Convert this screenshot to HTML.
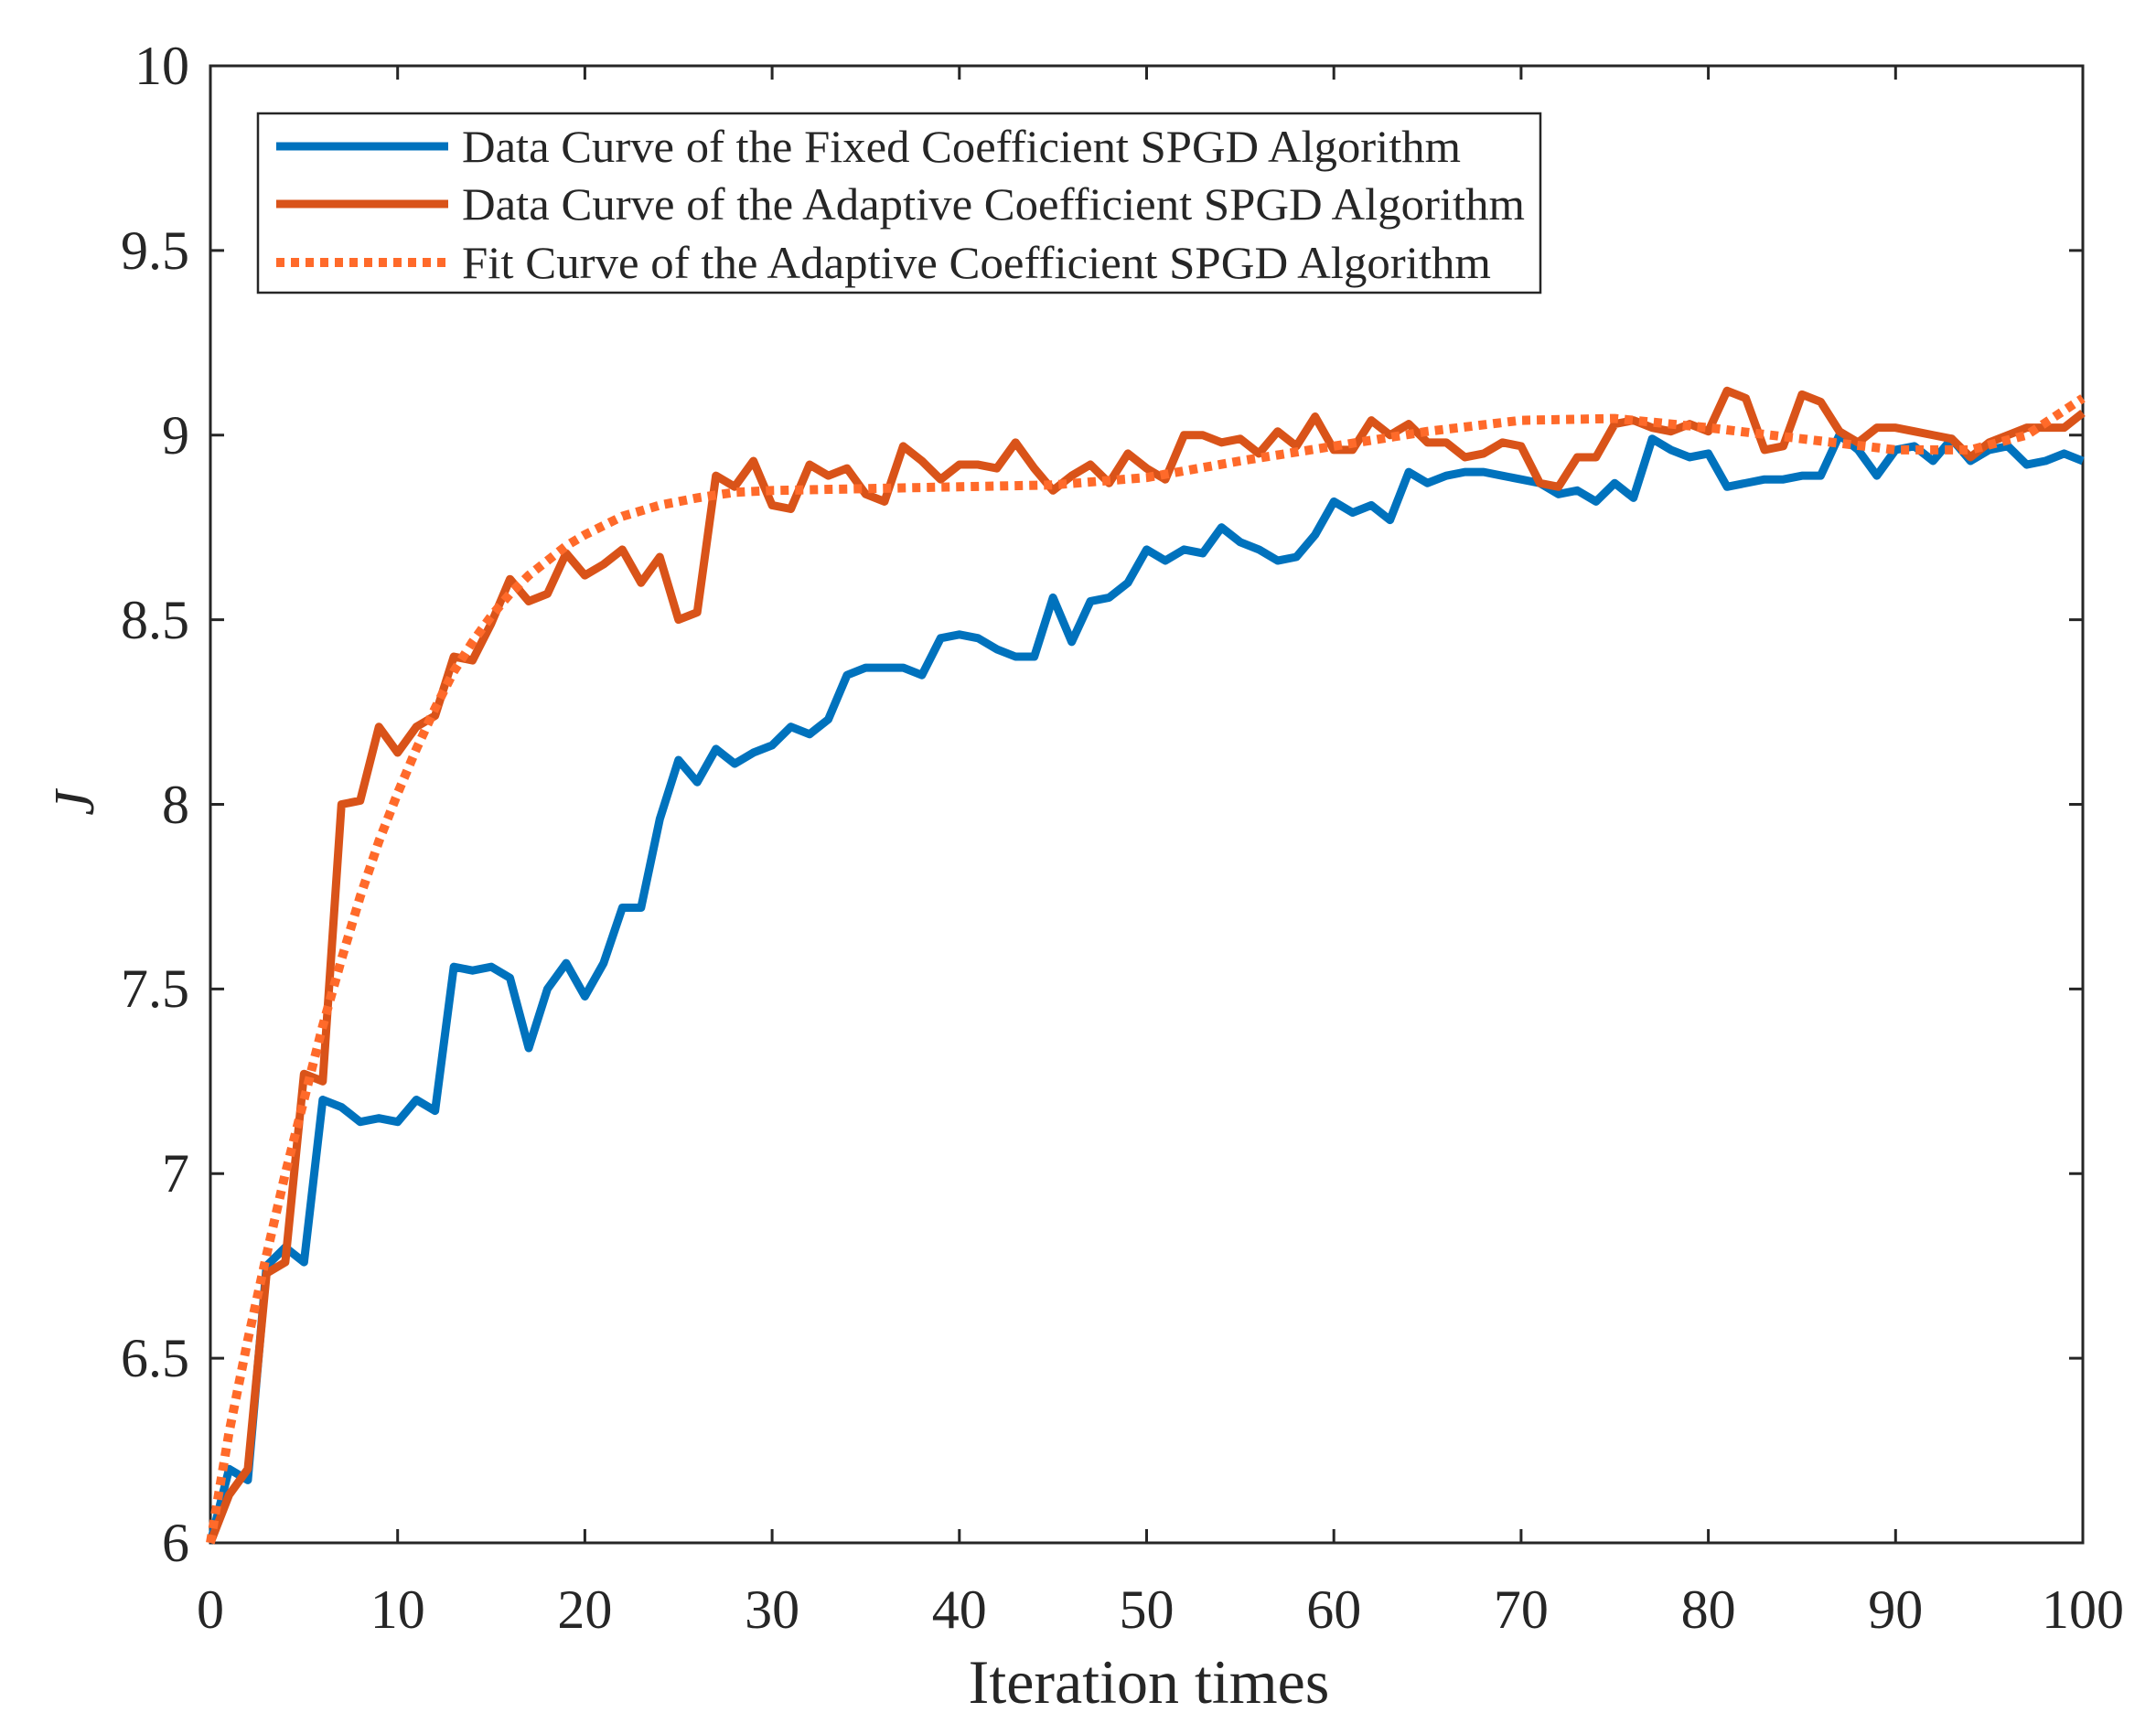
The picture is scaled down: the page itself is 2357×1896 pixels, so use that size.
<!DOCTYPE html>
<html><head><meta charset="utf-8"><style>
html,body{margin:0;padding:0;background:#fff;}
svg{display:block;font-family:"Liberation Serif",serif;}
</style></head><body>
<svg width="2357" height="1896" viewBox="0 0 2357 1896" xmlns="http://www.w3.org/2000/svg">
<rect width="2357" height="1896" fill="#fff"/>
<g stroke="#262626" stroke-width="3" fill="none">
<rect x="230" y="72" width="2047" height="1615"/>
<path d="M434.7,1687v-15M639.4,1687v-15M844.1,1687v-15M1048.8,1687v-15M1253.5,1687v-15M1458.2,1687v-15M1662.9,1687v-15M1867.6,1687v-15M2072.3,1687v-15
M434.7,72v15M639.4,72v15M844.1,72v15M1048.8,72v15M1253.5,72v15M1458.2,72v15M1662.9,72v15M1867.6,72v15M2072.3,72v15
M230,1485.1h15M230,1283.3h15M230,1081.4h15M230,879.5h15M230,677.6h15M230,475.8h15M230,273.9h15
M2277,1485.1h-15M2277,1283.3h-15M2277,1081.4h-15M2277,879.5h-15M2277,677.6h-15M2277,475.8h-15M2277,273.9h-15"/>
</g>
<g font-size="60" fill="#262626" text-anchor="middle">
<text x="230" y="1780">0</text><text x="434.7" y="1780">10</text><text x="639.4" y="1780">20</text><text x="844.1" y="1780">30</text><text x="1048.8" y="1780">40</text><text x="1253.5" y="1780">50</text><text x="1458.2" y="1780">60</text><text x="1662.9" y="1780">70</text><text x="1867.6" y="1780">80</text><text x="2072.3" y="1780">90</text><text x="2277" y="1780">100</text>
</g>
<g font-size="60" fill="#262626" text-anchor="end">
<text x="207" y="1707">6</text><text x="207" y="1505">6.5</text><text x="207" y="1303">7</text><text x="207" y="1101">7.5</text><text x="207" y="900">8</text><text x="207" y="698">8.5</text><text x="207" y="496">9</text><text x="207" y="294">9.5</text><text x="207" y="92">10</text>
</g>
<text x="1256" y="1862" font-size="68" fill="#262626" text-anchor="middle">Iteration times</text>
<text transform="translate(102,878) rotate(-90)" font-size="62" font-style="italic" fill="#262626" text-anchor="middle">J</text>
<g transform="translate(230,1687) scale(20.47,-403.75) translate(0,-6)" fill="none" stroke-linejoin="round">
<polyline vector-effect="non-scaling-stroke" stroke="#0072BD" stroke-width="9" points="0,6.0 1,6.2 2,6.17 3,6.75 4,6.8 5,6.76 6,7.2 7,7.18 8,7.14 9,7.15 10,7.14 11,7.2 12,7.17 13,7.56 14,7.55 15,7.56 16,7.53 17,7.34 18,7.5 19,7.57 20,7.48 21,7.57 22,7.72 23,7.72 24,7.96 25,8.12 26,8.06 27,8.15 28,8.11 29,8.14 30,8.16 31,8.21 32,8.19 33,8.23 34,8.35 35,8.37 36,8.37 37,8.37 38,8.35 39,8.45 40,8.46 41,8.45 42,8.42 43,8.4 44,8.4 45,8.56 46,8.44 47,8.55 48,8.56 49,8.6 50,8.69 51,8.66 52,8.69 53,8.68 54,8.75 55,8.71 56,8.69 57,8.66 58,8.67 59,8.73 60,8.82 61,8.79 62,8.81 63,8.77 64,8.9 65,8.87 66,8.89 67,8.9 68,8.9 69,8.89 70,8.88 71,8.87 72,8.84 73,8.85 74,8.82 75,8.87 76,8.83 77,8.99 78,8.96 79,8.94 80,8.95 81,8.86 82,8.87 83,8.88 84,8.88 85,8.89 86,8.89 87,9.0 88,8.96 89,8.89 90,8.96 91,8.97 92,8.93 93,8.99 94,8.93 95,8.96 96,8.97 97,8.92 98,8.93 99,8.95 100,8.93"/>
<polyline vector-effect="non-scaling-stroke" stroke="#D95319" stroke-width="9" points="0,6.0 1,6.13 2,6.2 3,6.73 4,6.76 5,7.27 6,7.25 7,8.0 8,8.01 9,8.21 10,8.14 11,8.21 12,8.24 13,8.4 14,8.39 15,8.49 16,8.61 17,8.55 18,8.57 19,8.68 20,8.62 21,8.65 22,8.69 23,8.6 24,8.67 25,8.5 26,8.52 27,8.89 28,8.86 29,8.93 30,8.81 31,8.8 32,8.92 33,8.89 34,8.91 35,8.84 36,8.82 37,8.97 38,8.93 39,8.88 40,8.92 41,8.92 42,8.91 43,8.98 44,8.91 45,8.85 46,8.89 47,8.92 48,8.87 49,8.95 50,8.91 51,8.88 52,9.0 53,9.0 54,8.98 55,8.99 56,8.95 57,9.01 58,8.97 59,9.05 60,8.96 61,8.96 62,9.04 63,9.0 64,9.03 65,8.98 66,8.98 67,8.94 68,8.95 69,8.98 70,8.97 71,8.87 72,8.86 73,8.94 74,8.94 75,9.03 76,9.04 77,9.02 78,9.01 79,9.03 80,9.01 81,9.12 82,9.1 83,8.96 84,8.97 85,9.11 86,9.09 87,9.01 88,8.98 89,9.02 90,9.02 91,9.01 92,9.0 93,8.99 94,8.94 95,8.98 96,9.0 97,9.02 98,9.02 99,9.02 100,9.06"/>
<polyline vector-effect="non-scaling-stroke" stroke="#FF6A2A" stroke-width="10" stroke-dasharray="9 7" points="0,6.0 1,6.3 2,6.55 3,6.78 4,7.0 5,7.2 6,7.4 7,7.58 8,7.75 9,7.9 10,8.03 11,8.15 12,8.26 13,8.36 14,8.44 15,8.51 16,8.57 17,8.62 18,8.66 19,8.7 20,8.73 22,8.78 24,8.81 26,8.83 28,8.845 30,8.85 35,8.855 40,8.86 45,8.865 50,8.885 55,8.93 60,8.97 65,9.01 70,9.04 75,9.045 80,9.02 85,8.99 90,8.96 94,8.96 97,9.0 100,9.1"/>
</g>
<rect x="282" y="124" width="1402" height="196" fill="#fff" stroke="#262626" stroke-width="2.5"/>
<line x1="302" y1="160" x2="490" y2="160" stroke="#0072BD" stroke-width="9"/>
<line x1="302" y1="223" x2="490" y2="223" stroke="#D95319" stroke-width="9"/>
<line x1="302" y1="287" x2="490" y2="287" stroke="#FF6A2A" stroke-width="10" stroke-dasharray="9 7"/>
<g font-size="50" fill="#262626">
<text x="505" y="177" textLength="1092" lengthAdjust="spacingAndGlyphs">Data Curve of the Fixed Coefficient SPGD Algorithm</text>
<text x="505" y="240" textLength="1162" lengthAdjust="spacingAndGlyphs">Data Curve of the Adaptive Coefficient SPGD Algorithm</text>
<text x="505" y="304" textLength="1125" lengthAdjust="spacingAndGlyphs">Fit Curve of the Adaptive Coefficient SPGD Algorithm</text>
</g>
</svg>
</body></html>
